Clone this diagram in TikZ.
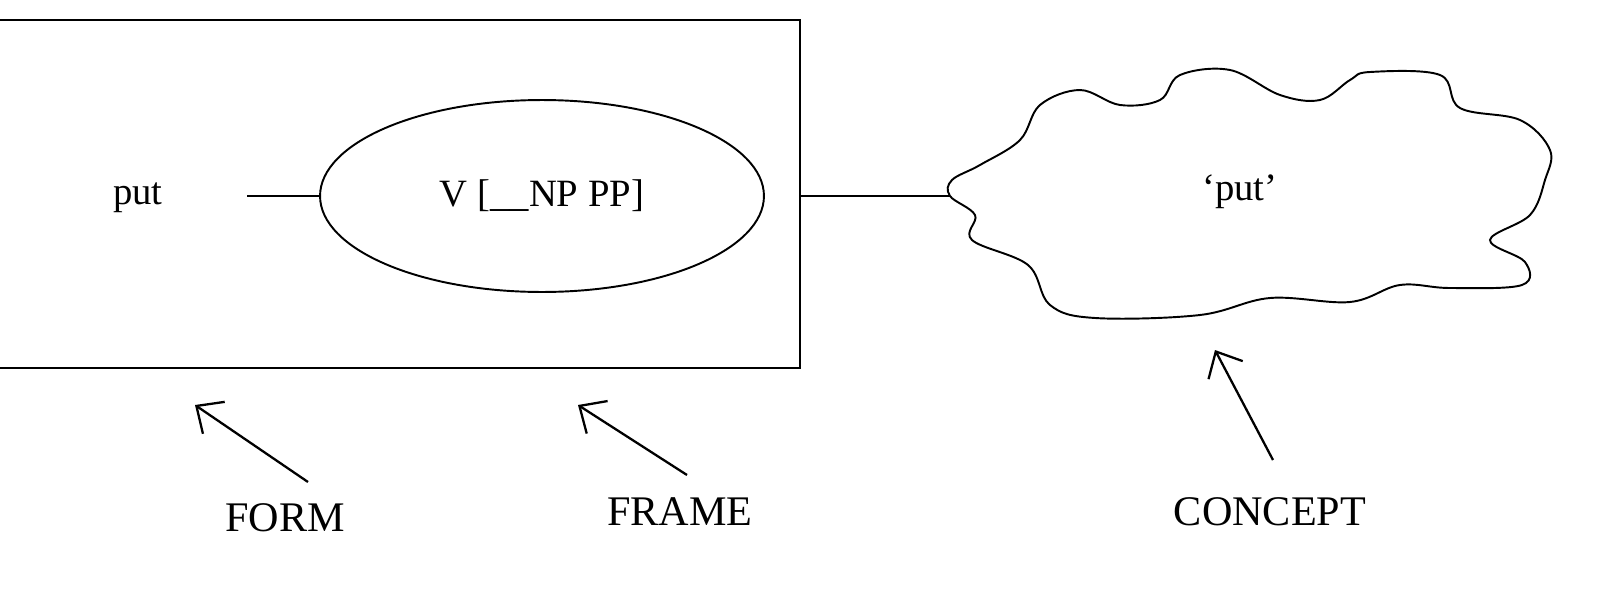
\documentclass[tikz,border=0pt]{standalone}
\usepackage{fontspec}
\setmainfont{Liberation Serif}
\usetikzlibrary{arrows.meta,shapes.geometric}
\begin{document}
\begin{tikzpicture}[x=0.02cm,y=-0.02cm,line width=1.1pt,
  lbl/.style={font=\fontsize{22}{26}\selectfont},
  big/.style={font=\fontsize{24}{28}\selectfont},
  ptr/.style={-{Straight Barb[length=12pt,width=22pt]},line width=1.3pt}]
\useasboundingbox (0,0) rectangle (1624,592);
\draw (-10,20) rectangle (800,368);
\node[draw,ellipse,inner sep=0pt,minimum width=8.88cm,minimum height=3.84cm,lbl] (frame) at (542,196) {V [\_\_NP PP]};
\node[lbl] (put) at (138,198) {put};
\coordinate (pl) at (247,196);
\draw (pl) -- (frame.west);
\coordinate (rb) at (800,196);
\coordinate (cl) at (950,196);
\draw (rb) -- (cl);
\draw plot[smooth cycle,tension=0.6] coordinates {(950,196) (975,215) (972,240) (1028,265) (1050,305) (1095,318) (1200,315) (1270,298) (1350,302) (1400,285) (1450,288) (1522,285) (1525,262) (1490,240) (1530,215) (1545,180) (1550,150) (1520,120) (1460,108) (1440,75) (1370,72) (1350,80) (1320,100) (1280,95) (1230,70) (1180,75) (1160,100) (1120,105) (1080,90) (1040,105) (1020,140) (980,165) (952,180)};
\node[lbl] (cput) at (1240,192) {`put'};
\node[big] (form) at (285,518) {FORM};
\node[big] (fr) at (680,512) {FRAME};
\node[big] (con) at (1270,512) {CONCEPT};
\coordinate (a1) at (195,405); \coordinate (a1s) at (308,482);
\coordinate (a2) at (578,405); \coordinate (a2s) at (687,475);
\coordinate (a3) at (1215,350); \coordinate (a3s) at (1273,460);
\draw[ptr] (a1s) -- (a1);
\draw[ptr] (a2s) -- (a2);
\draw[ptr] (a3s) -- (a3);
\end{tikzpicture}
\end{document}
